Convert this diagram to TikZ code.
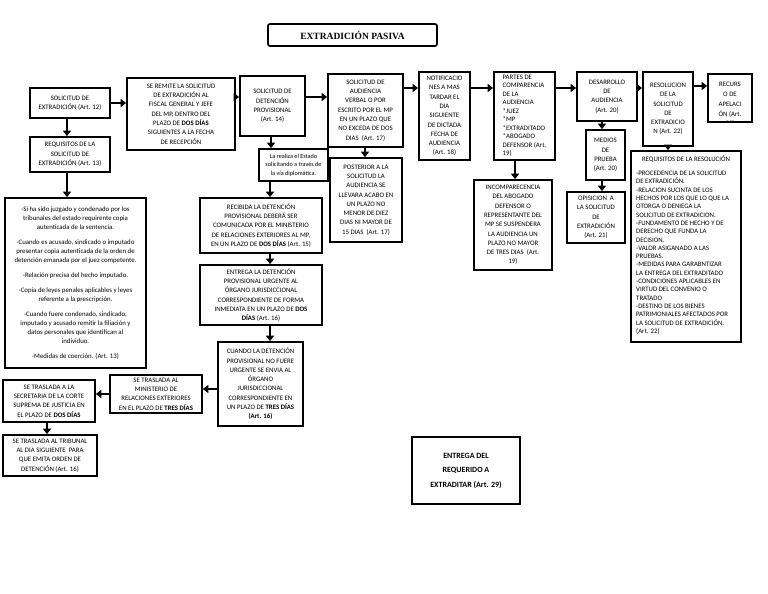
\documentclass[tikz,border=0pt]{standalone}
\usepackage{fontspec}
\setmainfont{Carlito}
\newfontfamily\titlefont{Liberation Serif}
\usetikzlibrary{arrows.meta,calc}
\tikzset{
 box/.style={draw=black, line width=1.7pt, fill=white, align=center, inner sep=0pt, font=\fontsize{6.8}{9.3}\selectfont},
 arr/.style={line width=1.7pt, -{Triangle[width=8pt,length=5.5pt]}},
 txt/.style={inner sep=0pt, font=\fontsize{6.8}{9.3}\selectfont},
}
\newcommand\mybox[7][]{\node[box,#1, minimum width={#5-#3}, minimum height={#6-#4}] (#2) at ({(#3+#5)/2},{(#4+#6)/2}) {#7};}
\begin{document}
\begin{tikzpicture}[x=1pt,y=-1pt]
\fill[white] (0,0) rectangle (768,594);
\useasboundingbox (0,0) rectangle (768,594);

% title
\node[draw, line width=1.7pt, rounded corners=2pt, minimum width=169pt, minimum height=22pt, font=\titlefont\bfseries\fontsize{9.5}{11}\selectfont] (T) at (352.5,35) {EXTRADICIÓN PASIVA};

% left column
\mybox{A}{30}{88}{110}{118}{SOLICITUD DE\\EXTRADICIÓN (Art. 12)}
\mybox{A2}{30}{137}{110}{172}{REQUISITOS DE LA\\SOLICITUD DE\\EXTRADICIÓN (Art. 13)}
\mybox[font=\fontsize{6.8}{9}\selectfont]{A3}{5}{198}{146}{368}{-Si ha sido juzgado y condenado por los\\tribunales del estado requirente copia\\autenticada de la sentencia.\\[6pt]-Cuando es acusado, sindicado o imputado\\presentar copia autenticada de la orden de\\detención emanada por el juez competente.\\[6pt]-Relación precisa del hecho imputado.\\[6pt]-Copia de leyes penales aplicables y leyes\\referente a la prescripción.\\[6pt]-Cuando fuere condenado, sindicado,\\imputado y acusado remitir la filiación y\\datos personales que identifican al\\individuo.\\[6pt]-Medidas de coerción. (Art. 13)}

\mybox{B}{127}{78}{235}{150}{SE REMITE LA SOLICITUD\\DE EXTRADICIÓN AL\\FISCAL GENERAL Y JEFE\\DEL MP, DENTRO DEL\\PLAZO DE \textbf{DOS DÍAS}\\SIGUIENTES A LA FECHA\\DE RECEPCIÓN}

\mybox{C}{240}{76}{305}{136}{SOLICITUD DE\\DETENCIÓN\\PROVISIONAL\\(Art. 14)}
\mybox[font=\fontsize{6.2}{8.6}\selectfont]{C2}{259}{149}{328}{181}{La realiza el Estado\\solicitando a través de\\la vía diplomática.}
\mybox{C3}{200}{198}{322}{253}{RECIBIDA LA DETENCIÓN\\PROVISIONAL DEBERÁ SER\\COMUNICADA POR EL MINISTERIO\\DE RELACIONES EXTERIORES AL MP,\\EN UN PLAZO DE \textbf{DOS DÍAS} (Art. 15)}
\mybox{C4}{200}{265}{322}{325}{ENTREGA LA DETENCIÓN\\PROVISIONAL URGENTE AL\\ÓRGANO JURISDICCIONAL\\CORRESPONDIENTE DE FORMA\\INMEDIATA EN UN PLAZO DE \textbf{DOS}\\\textbf{DÍAS} (Art. 16)}
\mybox{C5}{218}{342}{303}{426}{CUANDO LA DETENCIÓN\\PROVISIONAL NO FUERE\\URGENTE SE ENVIA AL\\ÓRGANO\\JURISDICCIONAL\\CORRESPONDIENTE EN\\UN PLAZO DE \textbf{TRES DÍAS}\\\textbf{(Art. 16)}}
\mybox{C6}{110}{375}{202}{413}{SE TRASLADA AL\\MINISTERIO DE\\RELACIONES EXTERIORES\\EN EL PLAZO DE \textbf{TRES DÍAS}}
\mybox{C7}{3}{380}{95}{422}{SE TRASLADA A LA\\SECRETARIA DE LA CORTE\\SUPREMA DE JUSTICIA EN\\EL PLAZO DE \textbf{DOS DÍAS}}
\mybox{C8}{3}{435}{97}{476}{SE TRASLADA AL TRIBUNAL\\AL DIA SIGUIENTE\ \ PARA\\QUE EMITA ORDEN DE\\DETENCIÓN (Art. 16)}

\mybox{D}{328}{74}{403}{147}{SOLICITUD DE\\AUDIENCIA\\VERBAL O POR\\ESCRITO POR EL MP\\EN UN PLAZO QUE\\NO EXCEDA DE DOS\\DIAS\ \ (Art. 17)}
\mybox{D2}{330}{158}{402}{242}{POSTERIOR A LA\\SOLICITUD LA\\AUDIENCIA SE\\LLEVARA ACABO EN\\UN PLAZO NO\\MENOR DE DIEZ\\DIAS NI MAYOR DE\\15 DIAS\ \ (Art. 17)}

\mybox{E}{419}{72}{470}{160}{NOTIFICACIO\\NES A MAS\\TARDAR EL\\DIA\\SIGUIENTE\\DE DICTADA\\FECHA DE\\AUDIENCIA\\(Art. 18)}
\mybox[align=left, font=\fontsize{6.8}{8.5}\selectfont]{F}{494}{72}{555}{160}{PARTES DE\\COMPARENCIA\\DE LA\\AUDIENCIA\\*JUEZ\\*MP\\*EXTRADITADO\\*ABOGADO\\DEFENSOR (Art.\\19)}
\mybox{F2}{474}{180}{552}{270}{INCOMPARECENCIA\\DEL ABOGADO\\DEFENSOR O\\REPRESENTANTE DEL\\MP SE SUSPENDERA\\LA AUDIENCIA UN\\PLAZO NO MAYOR\\DE TRES DIAS\ \ (Art.\\19)}

\mybox{G}{577}{72}{637}{121}{DESARROLLO\\DE\\AUDIENCIA\\(Art. 20)}
\mybox{G2}{586}{130}{625}{180}{MEDIOS\\DE\\PRUEBA\\(Art. 20)}
\mybox{G3}{567}{192}{625}{243}{OPISICION\ \ A\\LA SOLICITUD\\DE\\EXTRADICIÓN\\(Art. 21)}

\mybox{H}{643}{72}{693}{146}{RESOLUCION\\DE LA\\SOLICITUD\\DE\\EXTRADICIO\\N (Art. 22)}
\mybox{H2}{631}{151}{741}{342}{}
\node[txt] (H2t) at (686,159) {REQUISITOS DE LA RESOLUCIÓN};
\node[txt, anchor=north west, align=left, font=\fontsize{6.8}{8.3}\selectfont] (H2b) at (636,171) {-PROCEDENCIA DE LA SOLICITUD\\DE EXTRADICIÓN.\\-RELACION SUCINTA DE LOS\\HECHOS POR LOS QUE LO QUE LA\\OTORGA O DENIEGA LA\\SOLICITUD DE EXTRADICION.\\-FUNDAMENTO DE HECHO Y DE\\DERECHO QUE FUNDA LA\\DECISION.\\-VALOR ASIGANADO A LAS\\PRUEBAS.\\-MEDIDAS PARA GARABNTIZAR\\LA ENTREGA DEL EXTRADITADO\\-CONDICIONES APLICABLES EN\\VIRTUD DEL CONVENIO O\\TRATADO\\-DESTINO DE LOS BIENES\\PATRIMONIALES AFECTADOS POR\\LA SOLICITUD DE EXTRADICIÓN.\\(Art. 22)};

\mybox{I}{708}{74}{752}{122}{}
\begin{scope}
\clip ($(I.north west)+(1,1)$) rectangle ($(I.south east)+(-1,-1)$);
\node[txt, anchor=north, align=center, font=\fontsize{6.8}{9.8}\selectfont] (It) at ($(I.north)+(0,9)$) {RECURS\\O DE\\APELACI\\ÓN (Art.\\23)};
\end{scope}

\mybox[font=\bfseries\fontsize{8}{14.5}\selectfont]{J}{412}{437}{520}{504}{ENTREGA DEL\\REQUERIDO A\\EXTRADITAR (Art. 29)}

% connectors
\draw[arr] (A.east) -- (A.east -| B.west);
\draw[arr] (A.south -| 67,0) -- (A2.north -| 67,0);
\draw[arr] (A2.south -| 67,0) -- (A3.north -| 67,0);
\draw[arr] (B.east |- 0,97) -- (C.west |- 0,97);
\draw[arr] (C.east |- 0,97) -- (D.west |- 0,97);
\draw[arr] (C.south -| 271,0) -- (C2.north -| 271,0);
\draw[arr] (C2.south -| 270,0) -- (C3.north -| 270,0);
\draw[arr] (C3.south -| 270,0) -- (C4.north -| 270,0);
\draw[arr] (C4.south -| 270,0) -- (C5.north -| 270,0);
\draw[arr] (C5.west |- 0,389) -- (C6.east |- 0,389);
\draw[arr] (C6.west |- 0,394) -- (C7.east |- 0,394);
\draw[arr] (C7.south -| 47,0) -- (C8.north -| 47,0);
\draw[arr] (D.east |- 0,88) -- (E.west |- 0,88);
\draw[arr] (D.south -| 365,0) -- (D2.north -| 365,0);
\draw[arr] (E.east |- 0,88) -- (F.west |- 0,88);
\draw[arr] (F.south -| 515,0) -- (F2.north -| 515,0);
\draw[arr] (F.east |- 0,88) -- (G.west |- 0,88);
\draw[arr] (G.east |- 0,88) -- (H.west |- 0,88);
\draw[arr] (G.south -| 602,0) -- (G2.north -| 602,0);
\draw[arr] (G2.south -| 602,0) -- (G3.north -| 602,0);
\draw[arr] (H.east |- 0,86) -- (I.west |- 0,86);
\draw[arr] (H.south -| 668,0) -- (H2.north -| 668,0);
\end{tikzpicture}
\end{document}
